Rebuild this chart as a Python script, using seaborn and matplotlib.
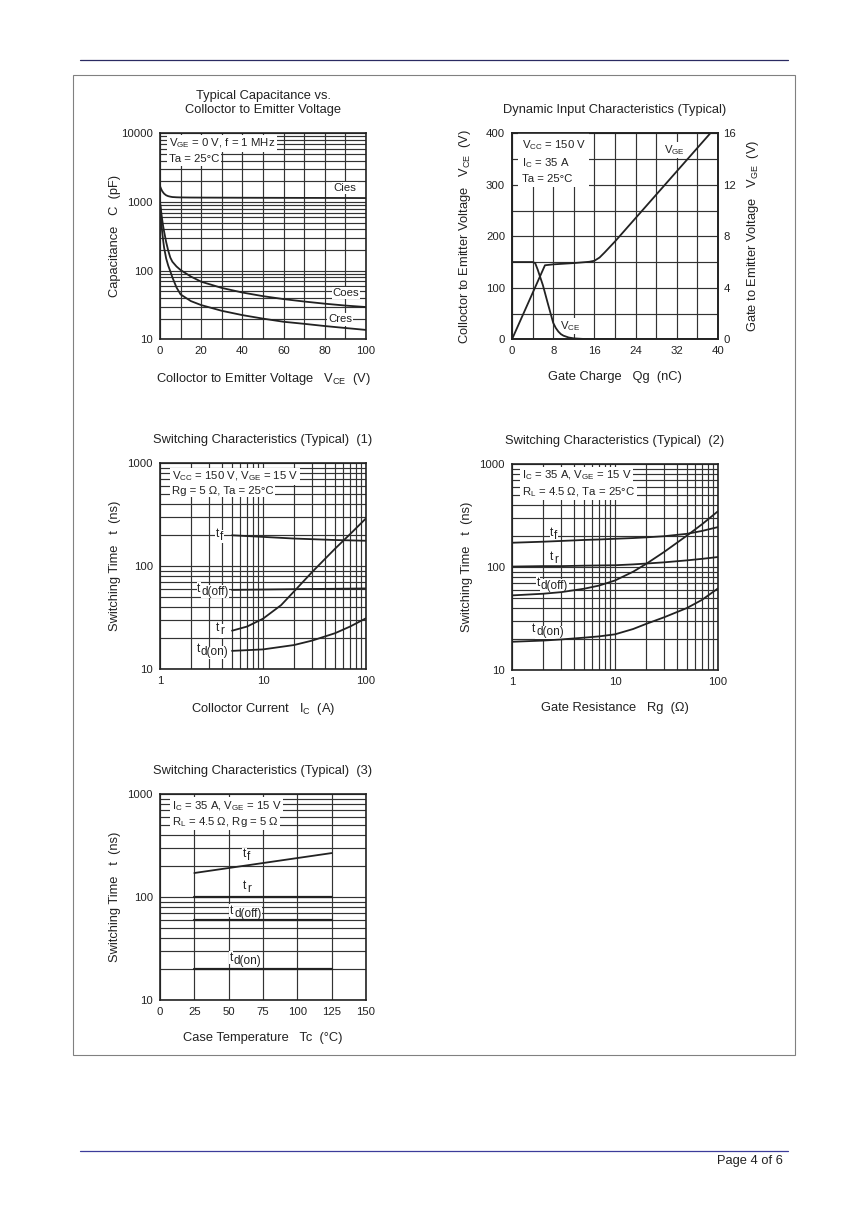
import matplotlib
matplotlib.use("Agg")
import matplotlib.pyplot as plt
from matplotlib.lines import Line2D
from matplotlib.patches import Rectangle
from matplotlib.transforms import offset_copy
from matplotlib.textpath import TextPath
from matplotlib.font_manager import FontProperties
import seaborn as sns

# --- data ---
# capacitance vs VCE
cap_vce = [0, 0.5, 1, 1.5, 2, 3, 4, 5, 6, 8, 10, 15, 20, 30, 40, 50, 60, 70, 80, 90, 100]
cies = [1700, 1560, 1450, 1380, 1320, 1250, 1215, 1195, 1180, 1170, 1165, 1160, 1158,
        1155, 1152, 1150, 1148, 1146, 1145, 1143, 1140]
coes = [1000, 750, 570, 450, 370, 260, 195, 155, 135, 115, 102, 82, 69,
        56, 48, 42.5, 38.5, 35.5, 33, 31, 29.5]
cres = [1000, 560, 380, 280, 215, 150, 118, 98, 80, 57, 45, 36, 31.5,
        26, 22.5, 20, 18, 16.8, 15.6, 14.6, 13.7]

# dynamic input characteristics
qg_vce = [0, 4, 4.5, 5, 6, 7, 8, 8.5, 9, 9.5, 10, 11, 12, 14, 16, 20, 40]
vce = [150, 150, 148, 135, 105, 68, 32, 22, 15, 10, 7, 3.5, 1.8, 0.6, 0.2, 0, 0]
qg_vge = [0, 6.4, 8, 12, 15, 16, 17, 18, 20, 38.5]
vge = [0, 5.75, 5.82, 5.92, 6.02, 6.1, 6.35, 6.75, 7.6, 16]

# switching (1) vs collector current
ic_tf = [5, 10, 20, 50, 100]
tf1 = [200, 193, 186, 180, 177]
ic_tr = [5, 7, 10, 15, 20, 30, 40, 50, 70, 100]
tr1 = [23.7, 26, 31, 42, 57, 88, 118, 148, 205, 292]
ic_tdoff = [5, 20, 50, 100]
tdoff1 = [59, 60, 60.5, 61]
ic_tdon = [5, 10, 20, 30, 50, 70, 100]
tdon1 = [15.1, 15.6, 17.2, 19, 22.4, 26, 31.3]

# switching (2) vs gate resistance
rg = [1, 2, 3, 5, 7, 10, 15, 20, 30, 50, 70, 100]
tf2 = [172, 176, 179, 183, 185, 188, 191, 194, 199, 210, 224, 244]
tr2 = [101, 102, 102, 103, 103.5, 104, 106, 108, 111, 116, 120, 125]
tdoff2 = [53, 55, 57, 61.5, 66, 74, 90, 107, 140, 202, 260, 348]
tdon2 = [18.8, 19.3, 19.8, 20.6, 21.2, 22.2, 25, 28, 32.5, 40, 48, 62]

# switching (3) vs case temperature
tc = [25, 125]
tf3 = [171, 267]
tr3 = [100, 100]
tdoff3 = [60, 60]
tdon3 = [20, 20]

log_minor = [20, 30, 40, 50, 60, 70, 80, 90, 200, 300, 400, 500, 600, 700, 800, 900]
log_x_minor = [2, 3, 4, 5, 6, 7, 8, 9, 20, 30, 40, 50, 60, 70, 80, 90]

# --- style ---
sns.set_style("white")
plt.rcParams["font.family"] = ["Liberation Sans", "DejaVu Sans"]
plt.rcParams["mathtext.fontset"] = "custom"
plt.rcParams["mathtext.rm"] = "Liberation Sans"
plt.rcParams["mathtext.it"] = "Liberation Sans:italic"
plt.rcParams["mathtext.bf"] = "Liberation Sans:bold"

INK = "#222222"
GRID = "#333333"
W, H = 868, 1228
fig = plt.figure(figsize=(W / 100, H / 100), dpi=100)
fp = FontProperties(family="Liberation Sans")


def make_ax(left, top, w=206, h=206):
    ax = fig.add_axes([left / W, 1 - (top + h) / H, w / W, h / H])
    for s in ax.spines.values():
        s.set_color(INK)
        s.set_linewidth(1.2)
    ax.tick_params(which="both", length=0, labelsize=8.2, pad=5, colors="#222222")
    return ax


def finish(ax, title, xlabel, ylabel):
    ax.grid(True, which="both", color=GRID, linewidth=0.85)
    ax.set_axisbelow(True)
    ax.set_title(title, fontsize=9.3, pad=14.5, color=INK)
    ax.set_xlabel(xlabel, fontsize=9.3, color=INK)
    ax.set_ylabel(ylabel, fontsize=9.3, color=INK)
    ax.xaxis.set_label_coords(0.5, -0.155)
    ax.yaxis.set_label_coords(-0.191, 0.5)


def note(ax, x, y, s):
    ax.text(x, y, s, transform=ax.transAxes, ha="left", va="center", fontsize=8.2,
            color=INK, bbox=dict(fc="white", ec="none", pad=1.2), zorder=3)


def tag(ax, x, y, s):
    ax.text(x, y, s, ha="center", va="center", fontsize=8.2, color=INK,
            bbox=dict(fc="white", ec="none", pad=0.8), zorder=3)


def tag_t(ax, x, y, sub, size=8.5):
    # "t" with a near full-size, lowered subscript, as in the datasheet
    sw = TextPath((0, 0), sub, size=size, prop=fp).get_extents().width
    tw = size * 0.36
    x0 = -(tw + sw) / 2
    t2 = offset_copy(ax.transData, fig=fig, x=x0 + tw, y=-1.2, units="points")
    ax.text(x, y, sub, transform=t2, ha="left", va="center", fontsize=size,
            color=INK, bbox=dict(fc="white", ec="none", pad=0.5), zorder=3)
    t1 = offset_copy(ax.transData, fig=fig, x=x0, y=1.0, units="points")
    ax.text(x, y, "t", transform=t1, ha="left", va="center", fontsize=size,
            color=INK, bbox=dict(fc="white", ec="none", pad=0.3), zorder=3.1)


def curve(ax, x, y, lw=1.3):
    sns.lineplot(x=x, y=y, ax=ax, color=INK, linewidth=lw, zorder=4)


def log_y(ax):
    ax.set_yscale("log")
    ax.set_yticks([10, 100, 1000])
    ax.set_yticklabels(["10", "100", "1000"])
    ax.set_yticks(log_minor, minor=True)
    ax.yaxis.set_minor_formatter(plt.NullFormatter())
    ax.set_ylim(10, 1000)


def log_x(ax):
    ax.set_xscale("log")
    ax.set_xticks([1, 10, 100])
    ax.set_xticklabels(["1", "10", "100"])
    ax.set_xticks(log_x_minor, minor=True)
    ax.xaxis.set_minor_formatter(plt.NullFormatter())
    ax.set_xlim(1, 100)


# 1) capacitance
ax1 = make_ax(160, 133.3)
curve(ax1, cap_vce, cies)
curve(ax1, cap_vce, coes)
curve(ax1, cap_vce, cres)
ax1.set_yscale("log")
ax1.set_yticks([10, 100, 1000, 10000])
ax1.set_yticklabels(["10", "100", "1000", "10000"])
ax1.set_yticks(log_minor + [2000, 3000, 4000, 5000, 6000, 7000, 8000, 9000], minor=True)
ax1.yaxis.set_minor_formatter(plt.NullFormatter())
ax1.set_xticks([0, 20, 40, 60, 80, 100])
ax1.set_xticks([10, 30, 50, 70, 90], minor=True)
ax1.set_ylim(10, 10000)
ax1.set_xlim(0, 100)
finish(ax1, "Typical Capacitance vs.\nColloctor to Emitter Voltage",
       r"Colloctor to Emitter Voltage   V$_\mathrm{CE}$  (V)", "Capacitance   C  (pF)")
note(ax1, 0.044, 0.951, r"V$_\mathrm{GE}$ = 0 V, f = 1 MHz")
note(ax1, 0.044, 0.875, "Ta = 25°C")
tag(ax1, 89.8, 1615, "Cies")
tag(ax1, 90.3, 46.7, "Coes")
tag(ax1, 87.4, 19.5, "Cres")

# 2) dynamic input characteristics
ax2 = make_ax(512, 133.3)
curve(ax2, qg_vce, vce)
ax2.set_xticks([0, 8, 16, 24, 32, 40])
ax2.set_xticks([4, 12, 20, 28, 36], minor=True)
ax2.set_yticks([0, 100, 200, 300, 400])
ax2.set_yticks([50, 150, 250, 350], minor=True)
ax2.set_xlim(0, 40)
ax2.set_ylim(0, 400)
finish(ax2, "Dynamic Input Characteristics (Typical)", "Gate Charge   Qg  (nC)",
       r"Colloctor to Emitter Voltage   V$_\mathrm{CE}$  (V)")
ax2.text(0.047, 0.865, "V$_\\mathrm{CC}$ = 150 V\nI$_\\mathrm{C}$ = 35 A\nTa = 25°C",
         transform=ax2.transAxes, ha="left", va="center", fontsize=8.2, color=INK,
         linespacing=1.45, bbox=dict(fc="white", ec="none", pad=2.5), zorder=3)
tag(ax2, 11.3, 26.6, r"V$_\mathrm{CE}$")
ax2r = ax2.twinx()
curve(ax2r, qg_vge, vge)
ax2r.set_yticks([0, 4, 8, 12, 16])
ax2r.set_ylim(0, 16)
ax2r.set_xlim(0, 40)
ax2r.tick_params(length=0, labelsize=8.2, pad=4, colors="#222222")
ax2r.grid(False)
for s in ax2r.spines.values():
    s.set_color(INK)
    s.set_linewidth(1.2)
ax2r.set_ylabel(r"Gate to Emitter Voltage   V$_\mathrm{GE}$  (V)", fontsize=9.3, color=INK)
ax2r.yaxis.set_label_coords(1.131, 0.5)
ax2r.text(31.6, 14.7, r"V$_\mathrm{GE}$", ha="center", va="center", fontsize=8.2,
          color=INK, bbox=dict(fc="white", ec="none", pad=0.8), zorder=3)

# 3) switching vs collector current
ax3 = make_ax(160, 463.3)
curve(ax3, ic_tf, tf1)
curve(ax3, ic_tr, tr1)
curve(ax3, ic_tdoff, tdoff1)
curve(ax3, ic_tdon, tdon1)
log_x(ax3)
log_y(ax3)
finish(ax3, "Switching Characteristics (Typical)  (1)", r"Colloctor Current   I$_\mathrm{C}$  (A)",
       "Switching Time   t  (ns)")
note(ax3, 0.057, 0.935, r"V$_\mathrm{CC}$ = 150 V, V$_\mathrm{GE}$ = 15 V")
note(ax3, 0.057, 0.867, "Rg = 5 Ω, Ta = 25°C")
tag_t(ax3, 3.75, 201, "f")
tag_t(ax3, 3.22, 58.9, "d(off)")
tag_t(ax3, 3.75, 24.4, "r")
tag_t(ax3, 3.2, 15.2, "d(on)")

# 4) switching vs gate resistance
ax4 = make_ax(512, 464)
curve(ax4, rg, tf2)
curve(ax4, rg, tr2)
curve(ax4, rg, tdoff2)
curve(ax4, rg, tdon2)
log_x(ax4)
log_y(ax4)
finish(ax4, "Switching Characteristics (Typical)  (2)", "Gate Resistance   Rg  (Ω)",
       "Switching Time   t  (ns)")
note(ax4, 0.048, 0.946, r"I$_\mathrm{C}$ = 35 A, V$_\mathrm{GE}$ = 15 V")
note(ax4, 0.048, 0.865, r"R$_\mathrm{L}$ = 4.5 Ω, Ta = 25°C")
tag_t(ax4, 2.54, 206, "f")
tag_t(ax4, 2.54, 122, "r")
tag_t(ax4, 2.44, 68, "d(off)")
tag_t(ax4, 2.19, 24.1, "d(on)")

# 5) switching vs case temperature
ax5 = make_ax(160, 794)
curve(ax5, tc, tf3)
curve(ax5, tc, tr3, lw=1.6)
curve(ax5, tc, tdoff3, lw=1.6)
curve(ax5, tc, tdon3, lw=1.6)
ax5.set_xticks([0, 25, 50, 75, 100, 125, 150])
ax5.set_xlim(0, 150)
log_y(ax5)
finish(ax5, "Switching Characteristics (Typical)  (3)", "Case Temperature   Tc  (°C)",
       "Switching Time   t  (ns)")
note(ax5, 0.057, 0.942, r"I$_\mathrm{C}$ = 35 A, V$_\mathrm{GE}$ = 15 V")
note(ax5, 0.057, 0.866, r"R$_\mathrm{L}$ = 4.5 Ω, Rg = 5 Ω")
tag_t(ax5, 63.1, 252, "f")
tag_t(ax5, 63.1, 124, "r")
tag_t(ax5, 61.9, 71, "d(off)")
tag_t(ax5, 61.9, 25, "d(on)")

# --- page furniture ---
fig.add_artist(Line2D([80 / W, 788 / W], [1 - 60 / H, 1 - 60 / H], color="#2a2a62", lw=0.9))
fig.add_artist(Line2D([80 / W, 788 / W], [1 - 1150.5 / H, 1 - 1150.5 / H], color="#3c3c9a", lw=0.9))
fig.add_artist(Rectangle((73 / W, 1 - 1055 / H), (795 - 73) / W, (1055 - 75) / H,
                         fill=False, ec="#808080", lw=0.8, transform=fig.transFigure))
fig.text(783 / W, 1 - 1161 / H, "Page 4 of 6", ha="right", va="center", fontsize=9.3, color=INK)

fig.savefig("out.png", dpi=100, facecolor="white")
